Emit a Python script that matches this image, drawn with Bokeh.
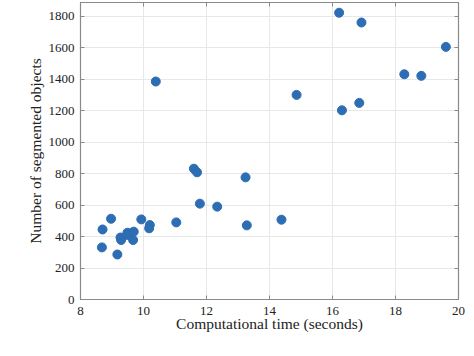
from bokeh.plotting import figure
from bokeh.models import LinearAxis, FixedTicker, Range1d
from bokeh.embed import file_html
from bokeh.resources import INLINE

time_s = [8.68, 8.70, 8.97, 9.17, 9.27, 9.29, 9.49, 9.50, 9.69, 9.67, 9.93, 10.20, 10.18,
          10.39, 11.04, 11.60, 11.70, 11.79, 12.34, 13.24, 13.28, 14.38, 14.86,
          16.21, 16.30, 16.85, 16.92, 18.28, 18.82, 19.60]
objects = [331, 445, 513, 286, 394, 378, 424, 410, 431, 378, 509, 473, 452,
           1385, 490, 831, 808, 609, 590, 776, 471, 507, 1300,
           1822, 1202, 1249, 1760, 1431, 1421, 1605]

x_ticks = [8, 10, 12, 14, 16, 18, 20]
y_ticks = [0, 200, 400, 600, 800, 1000, 1200, 1400, 1600, 1800]

FONT = "Liberation Serif"
AX = "#8a8a8a"

p = figure(width=466, height=348, output_backend="svg", toolbar_location=None,
           x_range=Range1d(8, 20), y_range=Range1d(0, 1887),
           min_border_left=80, min_border_right=8, min_border_top=2, min_border_bottom=49,
           x_axis_label="Computational time (seconds)",
           y_axis_label="Number of segmented objects")
p.outline_line_color = AX
p.outline_line_width = 1.2

p.scatter(time_s, objects, size=9, color="#2c6db3", line_color="#2c6db3")

for ax in (p.xaxis[0], p.yaxis[0]):
    ax.axis_line_color = AX
    ax.major_tick_line_color = AX
    ax.major_tick_in = 4
    ax.major_tick_out = 0
    ax.minor_tick_line_color = None
    ax.major_label_text_font = FONT
    ax.major_label_text_font_size = "13px"
    ax.major_label_text_color = "#222222"
    ax.axis_label_text_font = FONT
    ax.axis_label_text_font_size = "15.5px"
    ax.axis_label_text_font_style = "normal"
    ax.axis_label_text_color = "#222222"

p.xaxis[0].ticker = FixedTicker(ticks=x_ticks)
p.yaxis[0].ticker = FixedTicker(ticks=y_ticks)
p.xaxis[0].major_label_standoff = 7
p.yaxis[0].major_label_standoff = 6
p.xaxis[0].axis_label_standoff = -3
p.yaxis[0].axis_label_standoff = 2

for loc, tk in (("right", y_ticks), ("above", x_ticks)):
    a = LinearAxis(ticker=FixedTicker(ticks=[], minor_ticks=tk),
                   axis_line_color=AX, major_tick_line_color=None,
                   minor_tick_line_color=AX, minor_tick_in=4, minor_tick_out=0)
    p.add_layout(a, loc)

p.xgrid.grid_line_color = "#e8e8e8"
p.ygrid.grid_line_color = "#e8e8e8"
p.xgrid.ticker = FixedTicker(ticks=x_ticks)
p.ygrid.ticker = FixedTicker(ticks=y_ticks)

open("out.html", "w").write(file_html(p, INLINE))
